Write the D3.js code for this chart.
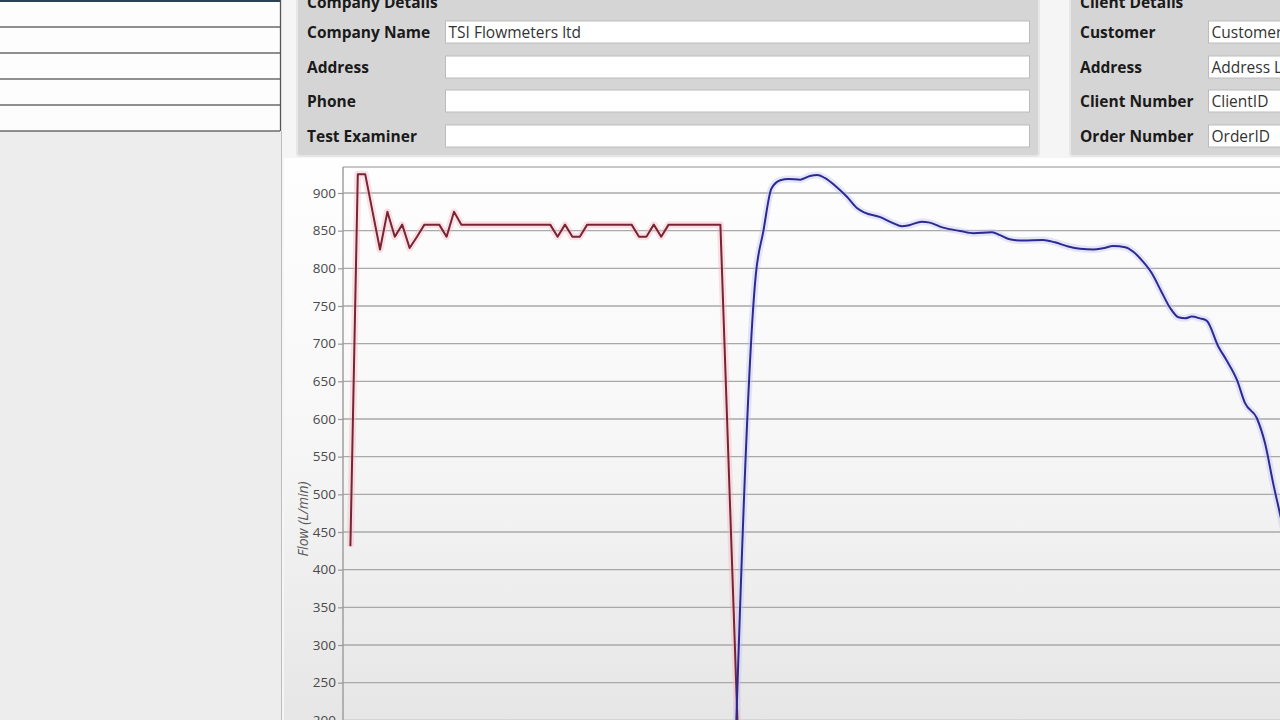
<!DOCTYPE html>
<html>
<head>
<meta charset="utf-8">
<script src="https://cdn.jsdelivr.net/npm/d3@7"></script>
<style>
html,body{margin:0;padding:0;background:#f3f3f3;overflow:hidden;}
svg{display:block;}
</style>
</head>
<body>
<svg id="chart" width="1280" height="720"></svg>
<script>
// ---- data ----
const yTicks = [0,50,100,150,200,250,300,350,400,450,500,550,600,650,700,750,800,850,900];
const yTitle = "Flow (L/min)";

const redTime = [1,2,3,4,5,6,7,8,9,10,11,12,13,14,15,16,17,18,19,20,21,22,23,24,25,26,27,28,29,30,31,32,33,34,35,36,37,38,39,40,41,42,43,44,45,46,47,48,49,50,51,54];
const redFlow = [431,925,925,875,825,875,842,858,827,842,858,858,858,842,875,858,858,858,858,858,858,858,858,858,858,858,858,858,842,858,842,842,858,858,858,858,858,858,858,842,842,858,842,858,858,858,858,858,858,858,858,0];

const blueTime = [52.5,55.8,56.8,57.9,59.1,60.2,61.8,63.1,64.1,65.1,66.7,68.1,69.4,70.5,72.6,74.1,75.5,76.6,78.2,79.3,81.1,83.4,85.2,87.7,88.8,90.1,91.9,94.6,96.2,98.0,99.6,101.4,102.7,104.1,105.7,106.8,108.1,109.3,110.6,111.8,112.9,113.8,114.7,115.8,116.7,118.3,119.4,120.8,121.9,123.5,124.6,125.7,126.6,127.6,128.6];
const blueFlow = [0,793,849,906,917,918.6,917.7,922.6,924,920,908,895,880.5,874,868,861,856,857.5,862,860.7,854,849.6,846.5,847.8,844,838.5,836.8,837.7,834.5,829,826,825,826.6,829.6,828,822,809,793.5,769,747,735,733.6,736,733.6,730.7,696,678,652,621,601,567.7,514.6,475,430,390];

const companyLabels = ["Company Name","Address","Phone","Test Examiner"];
const companyValues = ["TSI Flowmeters ltd","","",""];
const clientLabels = ["Customer","Address","Client Number","Order Number"];
const clientValues = ["Customer Name","Address Line 1","ClientID","OrderID"];
const leftRows = [0,1,2,3,4];

// ---- drawing ----
const svg = d3.select("#chart");
const defs = svg.append("defs");
const FONT = "'Open Sans', 'Noto Sans', sans-serif";

svg.append("rect").attr("x",0).attr("y",0).attr("width",1280).attr("height",720).attr("fill","#f5f5f5");

// left list panel
svg.append("rect").attr("x",0).attr("y",131).attr("width",281).attr("height",589).attr("fill","#ededed");
svg.append("rect").attr("x",0).attr("y",0).attr("width",280).attr("height",131).attr("fill","#fdfdfd");
svg.append("line").attr("x1",0).attr("x2",280).attr("y1",1).attr("y2",1).attr("stroke","#2c4058").attr("stroke-width",2);
svg.selectAll("line.row").data(leftRows).enter().append("line")
  .attr("x1",0).attr("x2",280)
  .attr("y1",(d,i)=>27+i*26).attr("y2",(d,i)=>27+i*26)
  .attr("stroke","#6a6a6a").attr("stroke-width",1.3);
svg.append("line").attr("x1",280.5).attr("x2",280.5).attr("y1",0).attr("y2",131).attr("stroke","#555").attr("stroke-width",1.3);
svg.append("line").attr("x1",281.5).attr("x2",281.5).attr("y1",131).attr("y2",720).attr("stroke","#bdbdbd").attr("stroke-width",1);

// chart background gradient
const bg = defs.append("linearGradient").attr("id","bgGrad").attr("x1",0).attr("x2",0).attr("y1",0).attr("y2",1);
bg.append("stop").attr("offset","0%").attr("stop-color","#fefefe");
bg.append("stop").attr("offset","45%").attr("stop-color","#f8f8f8");
bg.append("stop").attr("offset","100%").attr("stop-color","#e6e6e6");
svg.append("rect").attr("x",284).attr("y",158).attr("width",996).attr("height",562).attr("fill","url(#bgGrad)");

// group boxes
function groupBox(x, w, title, labels, values, labelX, boxX, boxW) {
  const g = svg.append("g");
  g.append("rect").attr("x",x).attr("y",-6).attr("width",w).attr("height",162).attr("rx",3)
    .attr("fill","#d5d5d5").attr("stroke","#e6e6e6").attr("stroke-width",2);
  g.append("text").attr("x",labelX).attr("y",8).attr("font-family",FONT).attr("font-weight","bold")
    .attr("font-size",15.5).attr("fill","#1a1a1a").text(title);
  const rowsY = [32,67,101,136];
  g.selectAll("text.lbl").data(labels).enter().append("text")
    .attr("x",labelX).attr("y",(d,i)=>rowsY[i]+5.5).attr("font-family",FONT).attr("font-weight","bold")
    .attr("font-size",15.5).attr("fill","#1a1a1a").text(d=>d);
  g.selectAll("rect.box").data(values).enter().append("rect")
    .attr("x",boxX).attr("y",(d,i)=>rowsY[i]-11).attr("width",boxW).attr("height",22)
    .attr("fill","#ffffff").attr("stroke","#bcbcbc").attr("stroke-width",1);
  g.selectAll("text.val").data(values).enter().append("text")
    .attr("x",boxX+3).attr("y",(d,i)=>rowsY[i]+5.5).attr("font-family",FONT)
    .attr("font-size",15.5).attr("fill","#333").text(d=>d);
}
groupBox(297, 742, "Company Details", companyLabels, companyValues, 307, 445.5, 584);
groupBox(1070, 240, "Client Details", clientLabels, clientValues, 1080, 1208.5, 120);

// ---- plot ----
const plotLeft = 343, plotTop = 167, plotRight = 1300, plotBottom = 871;
const x = d3.scaleLinear().domain([0,130]).range([plotLeft, plotLeft + 7.4*130]);
const y = d3.scaleLinear().domain([0,900]).range([871,193]);

defs.append("clipPath").attr("id","plotClip").append("rect")
  .attr("x",plotLeft).attr("y",plotTop).attr("width",plotRight-plotLeft).attr("height",plotBottom-plotTop);

svg.append("g").selectAll("line").data(yTicks).enter().append("line")
  .attr("x1",plotLeft).attr("x2",1280).attr("y1",d=>y(d)).attr("y2",d=>y(d))
  .attr("stroke","#a9a9a9").attr("stroke-width",1.4);

svg.append("line").attr("x1",plotLeft).attr("x2",1280).attr("y1",plotTop).attr("y2",plotTop)
  .attr("stroke","#b5b5b5").attr("stroke-width",1.4);

const yAxis = d3.axisLeft(y).tickValues(yTicks).tickSize(5).tickPadding(2).tickFormat(d3.format("d"));
const ag = svg.append("g").attr("transform",`translate(${plotLeft},0)`).call(yAxis);
ag.select(".domain").attr("stroke","#9a9a9a").attr("stroke-width",1.4).attr("d",`M0,${plotTop}V${plotBottom}`);
ag.selectAll(".tick line").attr("stroke","#9a9a9a").attr("stroke-width",1.2);
ag.selectAll(".tick text").attr("font-family",FONT).attr("font-size",13.5).attr("fill","#4a4a4a");

svg.append("text").attr("transform","translate(308,519) rotate(-90)")
  .attr("text-anchor","middle").attr("font-family",FONT).attr("font-style","italic")
  .attr("font-size",14).attr("fill","#5a5a5a").text(yTitle);

const lineGen = d3.line().x(d=>x(d[0])).y(d=>y(d[1]));
const redData = redTime.map((t,i)=>[t, redFlow[i]]);
const blueData = blueTime.map((t,i)=>[t, blueFlow[i]]);
const lg = svg.append("g").attr("clip-path","url(#plotClip)");

lg.append("path").datum(redData).attr("d",lineGen).attr("fill","none")
  .attr("stroke","#f3b9c2").attr("stroke-opacity",0.4).attr("stroke-width",7).attr("stroke-linejoin","round");
lg.append("path").datum(blueData).attr("d",lineGen.curve(d3.curveMonotoneX)).attr("fill","none")
  .attr("stroke","#c3c3f2").attr("stroke-opacity",0.4).attr("stroke-width",7).attr("stroke-linejoin","round");
lineGen.curve(d3.curveLinear);
lg.append("path").datum(redData).attr("d",lineGen).attr("fill","none")
  .attr("stroke","#7a2333").attr("stroke-width",2).attr("stroke-linejoin","round");
lg.append("path").datum(blueData).attr("d",lineGen.curve(d3.curveMonotoneX)).attr("fill","none")
  .attr("stroke","#2c2a92").attr("stroke-width",2).attr("stroke-linejoin","round");
</script>
</body>
</html>
